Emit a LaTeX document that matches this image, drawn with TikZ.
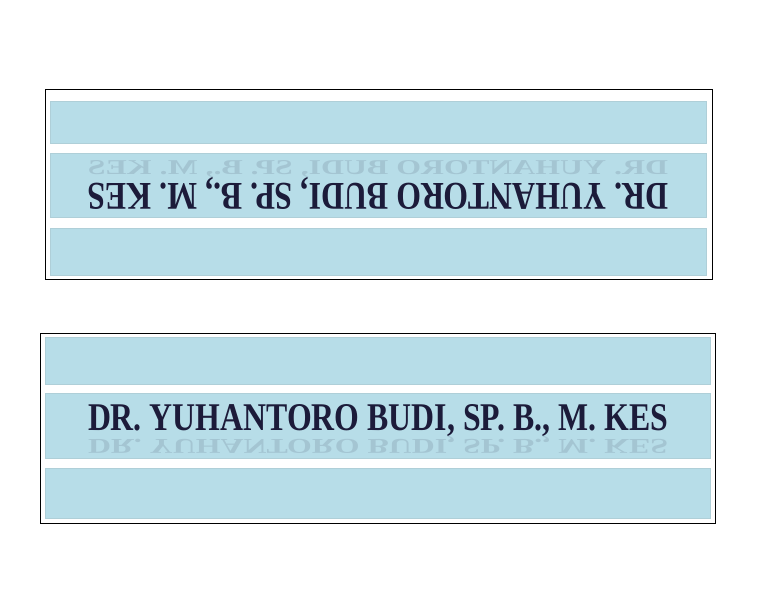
\documentclass[tikz,border=0pt]{standalone}
\usepackage{fontspec}
\setmainfont{Liberation Serif}
\definecolor{bar}{HTML}{B7DDE8}
\definecolor{ink}{HTML}{1C1B3A}
\tikzset{frame/.style={draw=black,line width=0.8pt,fill=white},
 barbox/.style={fill=bar,draw=bar!85!gray,line width=0.5pt}}
\newcommand{\nm}{\bfseries DR. YUHANTORO BUDI, SP. B., M. KES}
\begin{document}
\begin{tikzpicture}[x=1pt,y=-1pt]
\useasboundingbox (0,0) rectangle (768,594);
% top
\draw[frame] (45,89) rectangle (712,279);
\draw[barbox] (50,101) rectangle (706,143);
\draw[barbox] (50,153) rectangle (706,217);
\draw[barbox] (50,228) rectangle (706,275);
\node[text=ink,inner sep=0] (t1) at (378,193) {\rotatebox{180}{\resizebox{580pt}{26pt}{\nm}}};
\node[text=ink,opacity=0.12,inner sep=0] (t1r) at (378,169) {\scalebox{1}[-1]{\rotatebox{180}{\resizebox{580pt}{14pt}{\nm}}}};
% bottom
\draw[frame] (40,333) rectangle (715,523);
\draw[barbox] (45,337) rectangle (710,384);
\draw[barbox] (45,393) rectangle (710,458);
\draw[barbox] (45,468) rectangle (710,518);
\node[text=ink,inner sep=0] (t2) at (378,421) {\resizebox{580pt}{26pt}{\nm}};
\node[text=ink,opacity=0.12,inner sep=0] (t2r) at (378,445) {\scalebox{1}[-1]{\resizebox{580pt}{14pt}{\nm}}};
\end{tikzpicture}
\end{document}
